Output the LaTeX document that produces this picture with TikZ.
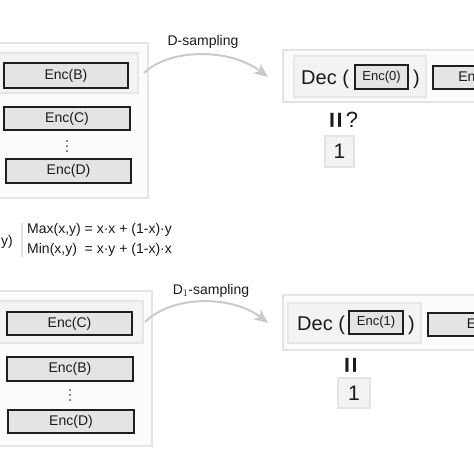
\documentclass[tikz,border=0pt]{standalone}
\usepackage{fontspec}
\setmainfont{Liberation Sans}
\usetikzlibrary{arrows.meta}
\definecolor{pborder}{HTML}{E4E4E4}
\definecolor{pfill}{HTML}{FBFBFB}
\definecolor{ifill}{HTML}{F3F3F3}
\definecolor{iborder}{HTML}{E6E6E6}
\definecolor{efill}{HTML}{E4E4E4}
\definecolor{edraw}{HTML}{1E1E1E}
\definecolor{arr}{HTML}{CACACA}
\definecolor{txt}{HTML}{1A1A1A}
\definecolor{bar}{HTML}{E0E0E0}
\newcommand\myfs[1]{\fontsize{#1}{#1}\selectfont}
\begin{document}
\begin{tikzpicture}[x=1pt,y=-1pt,
  sz/.style 2 args={minimum width=#1pt, minimum height=#2pt},
  outerpanel/.style={draw=pborder, fill=pfill, line width=1.5pt, inner sep=0},
  innerpanel/.style={draw=iborder, fill=ifill, line width=1.2pt, inner sep=0},
  encbox/.style={draw=edraw, fill=efill, line width=1.3pt, inner sep=0, font=\myfs{14}, text=txt},
  smallenc/.style={draw=edraw, fill=efill, line width=1.3pt, inner sep=0, font=\myfs{13}, text=txt},
  onebox/.style={draw=pborder, fill=ifill, line width=1.2pt, inner sep=0, font=\myfs{21}, text=txt},
  lbl/.style={font=\myfs{14}, text=txt, inner sep=0},
  bigtxt/.style={font=\myfs{20}, text=txt, inner sep=0},
  eqsign/.style={font=\myfs{28}\bfseries, text=txt, inner sep=0, rotate=90},
  flow/.style={draw=arr, line width=2pt, -{Stealth[length=14pt,width=12pt,inset=4pt]}},
  vdot/.style={fill=txt}
]
\useasboundingbox (0,0) rectangle (474,474);
\clip (0,0) rectangle (474,474);
\fill[white] (0,0) rectangle (474,474);

% ---------- top half ----------
\node[outerpanel, sz={158}{155}] (outerL1) at (69,120.5) {};
\node[innerpanel, sz={148}{40}] (innerL1) at (64,73) {};
\node[encbox, sz={124}{25}] (encB1) at (66,75.5) {Enc(B)};
\node[encbox, sz={126}{23}] (encC1) at (67,118.5) {Enc(C)};
\coordinate (dots1) at (67,146);
\foreach \d in {-5,0,5} \fill[vdot] ([yshift=\d pt]dots1) circle (0.9pt);
\node[encbox, sz={125}{24}] (encD1) at (68.5,171) {Enc(D)};

\coordinate (a1s) at (144,73);
\coordinate (a1e) at (268,77);
\draw[flow] (a1s) .. controls (170,48) and (230,48) .. (a1e);
\node[lbl] (lab1) at (203,42) {D-sampling};

\node[outerpanel, sz={197}{52}] (outerR1) at (381.5,76) {};
\node[innerpanel, sz={132}{41}] (innerR1) at (360,76.5) {};
\node[bigtxt, anchor=base west] (dec1) at (301,84) {Dec (};
\node[smallenc, sz={53}{24}] (enc01) at (381.5,77) {Enc(0)};
\node[bigtxt, anchor=base west] (cp1) at (413,84) {)};
\node[encbox, sz={92}{23}] (encR1) at (479,77.5) {Enc(1)};
\node[eqsign] (ne1) at (338,120) {=};
\node[font=\myfs{22}, text=txt, inner sep=0] (q1) at (352,120) {?};
\node[onebox, sz={29}{31}] (one1) at (339.5,151.5) {1};

% ---------- middle formulas ----------
\node[lbl, anchor=east] (yp) at (13,242) {y)};
\draw[bar, line width=1.5pt] (22,223) -- (22,257);
\node[lbl, anchor=west] (maxeq) at (27,230) {Max(x,y) = x·x + (1-x)·y};
\node[lbl, anchor=west] (mineq) at (27,250) {Min(x,y)\ \ = x·y + (1-x)·x};

% ---------- bottom half ----------
\node[outerpanel, sz={162}{155}] (outerL2) at (71,368.5) {};
\node[innerpanel, sz={153}{42}] (innerL2) at (66.5,322) {};
\node[encbox, sz={125}{23}] (encC2) at (69.5,323.5) {Enc(C)};
\node[encbox, sz={126}{24}] (encB2) at (70,369) {Enc(B)};
\coordinate (dots2) at (70,395);
\foreach \d in {-5,0,5} \fill[vdot] ([yshift=\d pt]dots2) circle (0.9pt);
\node[encbox, sz={126}{23}] (encD2) at (71,421.5) {Enc(D)};

\coordinate (a2s) at (145,322);
\coordinate (a2e) at (268,323);
\draw[flow] (a2s) .. controls (172,295) and (232,295) .. (a2e);
\node[lbl] (lab2) at (211,291) {D$_1$-sampling};

\node[outerpanel, sz={197}{55}] (outerR2) at (381.5,322.5) {};
\node[innerpanel, sz={133}{40}] (innerR2) at (354.5,323) {};
\node[bigtxt, anchor=base west] (dec2) at (297,330) {Dec (};
\node[smallenc, sz={54}{23}] (enc12) at (376,322.5) {Enc(1)};
\node[bigtxt, anchor=base west] (cp2) at (408,330) {)};
\node[encbox, sz={119}{23}] (encR2) at (487.5,324.5) {Enc(0)};
\node[eqsign] (ne2) at (353,365) {=};
\node[onebox, sz={32}{30}] (one2) at (354,393) {1};
\end{tikzpicture}
\end{document}
